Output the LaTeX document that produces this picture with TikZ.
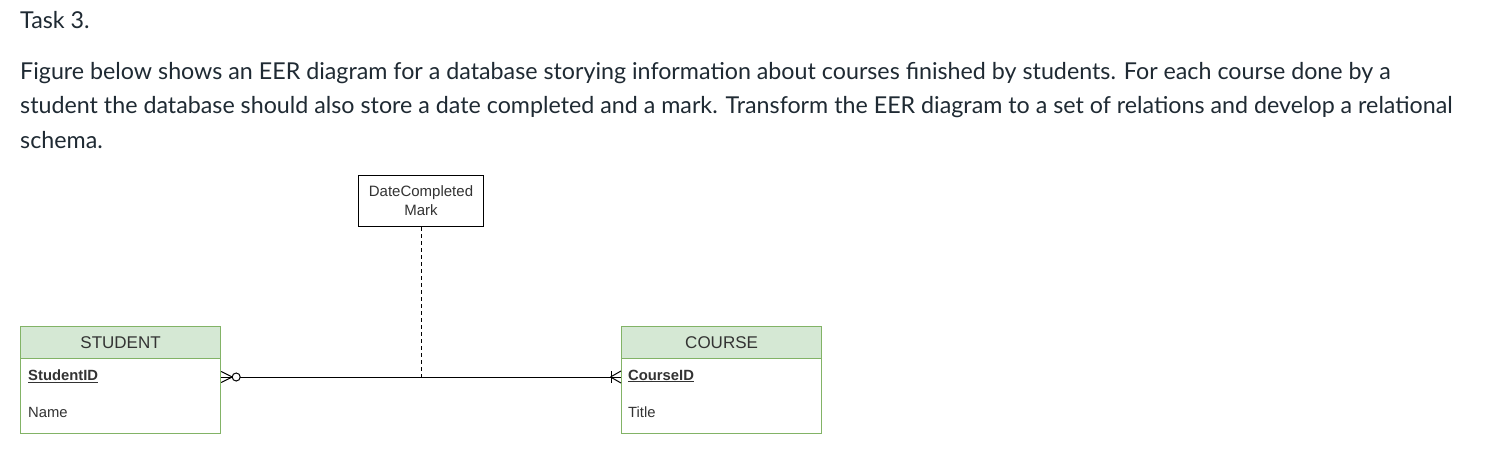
\documentclass[tikz,border=0pt]{standalone}
\usepackage{fontspec}
\setmainfont{Lato}
\newfontfamily\diagfont{Liberation Sans}
\usetikzlibrary{calc}
\definecolor{txt}{HTML}{1F2A33}
\definecolor{gfill}{HTML}{D5E8D4}
\definecolor{gline}{HTML}{82B366}
\definecolor{dtxt}{HTML}{333333}
\tikzset{
  para/.style={anchor=base west, inner sep=0pt, text=txt, font=\fontsize{23.25}{27}\selectfont},
  entitybox/.style={draw=gline, line width=1.2pt, fill=white, minimum width=200pt, minimum height=107pt, anchor=north west, inner sep=0pt},
  entityhead/.style={draw=gline, line width=1.2pt, fill=gfill, minimum width=200pt, minimum height=32pt, anchor=north west, inner sep=0pt, text=dtxt, font=\diagfont\fontsize{17}{20}\selectfont},
  attr/.style={anchor=west, inner sep=0pt, text=dtxt, font=\diagfont\fontsize{14.8}{17}\selectfont},
  notebox/.style={draw=black, line width=1pt, fill=white, minimum width=125pt, minimum height=51pt, anchor=north west, inner sep=0pt, align=center, text=dtxt, font=\diagfont\fontsize{15}{19}\selectfont},
  rel/.style={draw=black, line width=1pt},
  dashedrel/.style={draw=black, line width=1pt, dash pattern=on 4pt off 3pt}
}
\begin{document}
\begin{tikzpicture}[x=1pt,y=-1pt]
\useasboundingbox (0,0) rectangle (1492,466);
\fill[white] (0,0) rectangle (1492,466);

\node[para] (task) at (20,28) {Task 3.};
\node[para] (l1) at (20,79) {Figure below shows an EER diagram for a database storying information about courses finished by students. For each course done by a};
\node[para] (l2) at (20,113.5) {student the database should also store a date completed and a mark. Transform the EER diagram to a set of relations and develop a relational};
\node[para] (l3) at (20,148) {schema.};

% entities
\node[entitybox] (student) at (20,326) {};
\node[entityhead] (studenthead) at (20,326) {STUDENT};
\node[attr] (sid) at (28,376) {\textbf{\underline{StudentID}}};
\node[attr] (sname) at (28,412) {Name};

\node[entitybox] (course) at (621,326) {};
\node[entityhead] (coursehead) at (621,326) {COURSE};
\node[attr] (cid) at (628,376) {\textbf{\underline{CourseID}}};
\node[attr] (ctitle) at (628,412) {Title};

% relationship attributes
\node[notebox] (note) at (358,175) {DateCompleted\\Mark};

% relationship line
\coordinate (sa) at (student.east |- 0,377);
\coordinate (ca) at (course.west |- 0,377);
\draw[rel] (sa) -- (ca);
\coordinate (mid) at (note.south |- sa);
\draw[dashedrel] (note.south) -- (mid);

% zero-or-many at STUDENT
\draw[rel] ($(sa)+(11,0)$) -- ($(sa)+(0,-5.5)$);
\draw[rel] ($(sa)+(11,0)$) -- ($(sa)+(0,5.5)$);
\draw[rel, fill=white] ($(sa)+(15,0)$) circle (4pt);

% one-or-many at COURSE
\draw[rel] ($(ca)+(-10.5,0)$) -- ($(ca)+(0,-6)$);
\draw[rel] ($(ca)+(-10.5,0)$) -- ($(ca)+(0,6)$);
\draw[rel] ($(ca)+(-10,-6)$) -- ($(ca)+(-10,6)$);
\end{tikzpicture}
\end{document}
